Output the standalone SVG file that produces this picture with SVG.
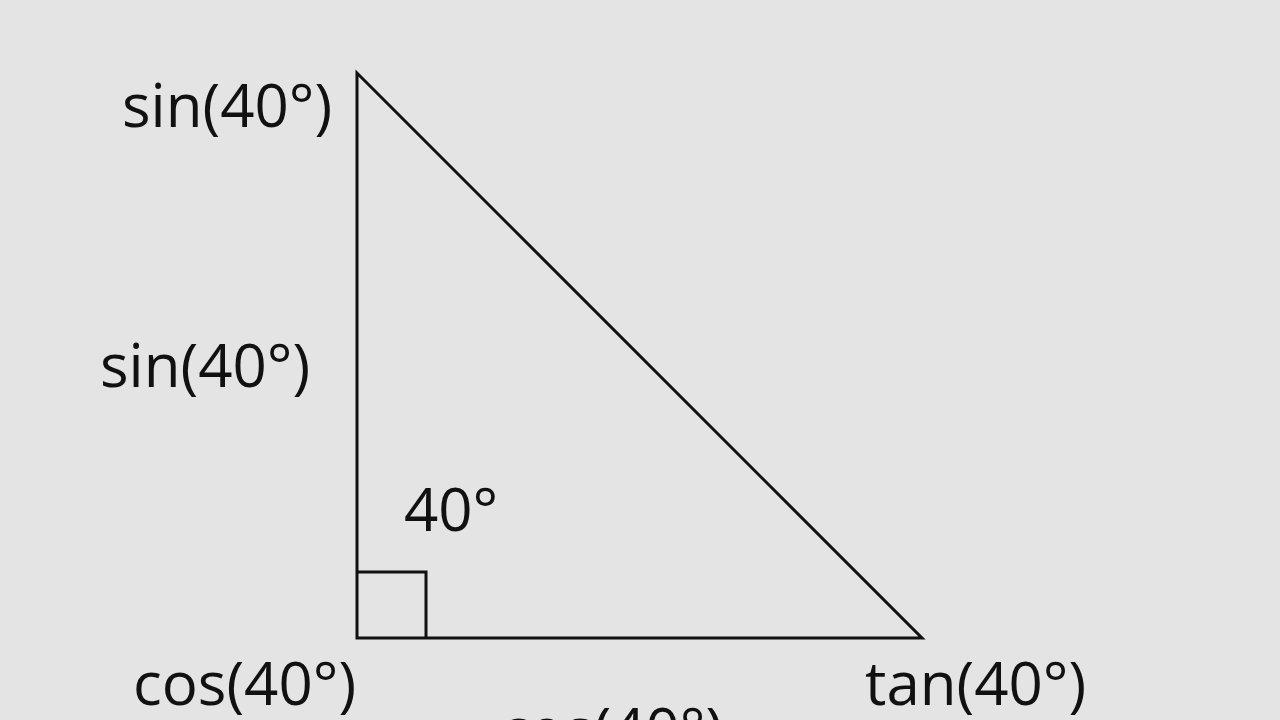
<svg xmlns="http://www.w3.org/2000/svg" width="1280" height="720" viewBox="0 0 1280 720">
<style>
.t{font-family:"Open Sans","Noto Sans",sans-serif;font-size:60px;fill:#111}
.l{fill:none;stroke:#111;stroke-width:3}
</style>
<rect width="1280" height="720" fill="#e4e4e4"/>
<g id="triangle">
<path class="l" d="M357,73 L357,638 L922,638 Z"/>
<path class="l" d="M357,572 L426,572 L426,638"/>
</g>
<g id="labels">
<text class="t" x="122" y="127">sin(40°)</text>
<text class="t" x="100" y="387">sin(40°)</text>
<text class="t" x="404" y="531">40°</text>
<text class="t" x="133" y="705">cos(40°)</text>
<text class="t" x="865" y="705">tan(40°)</text>
<text class="t" x="500" y="751">cos(40°)</text>
</g>
</svg>
